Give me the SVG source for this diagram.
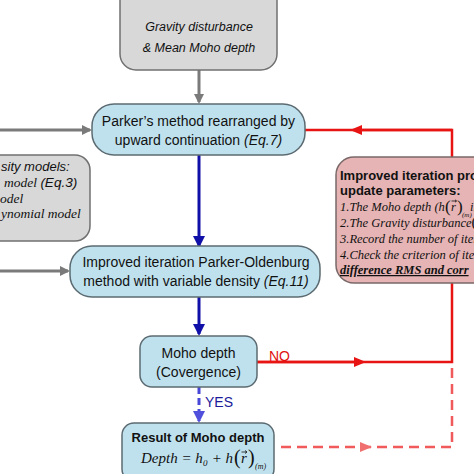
<svg xmlns="http://www.w3.org/2000/svg" width="474" height="474" viewBox="0 0 474 474">
<defs>
<style>
.gray{fill:#d8d8d8;stroke:#707070;stroke-width:1.5}
.blue{fill:#bfe1ee;stroke:#5c6b72;stroke-width:1.5}
.pink{fill:#e6b4b4;stroke:#7a6868;stroke-width:1.5}
.sans{font-family:"Liberation Sans",Arial,sans-serif;fill:#111}
.serif{font-family:"Liberation Serif","Times New Roman",serif;fill:#111;font-style:italic}
.it{font-style:italic}
.b{font-weight:bold}
.up{font-style:normal}
.vec{stroke:#111;stroke-width:0.8;fill:none}
.garr{stroke:#7a7a7a;stroke-width:3;fill:none}
.barr{stroke:#1010a8;stroke-width:3;fill:none}
.rarr{stroke:#e81414;stroke-width:2.5;fill:none}
.rdash{stroke:#f05a5a;stroke-width:2.5;fill:none;stroke-dasharray:10,6}
.ydash{stroke:#4848d8;stroke-width:3;fill:none;stroke-dasharray:7,4}
</style>
<marker id="mg" markerWidth="10" markerHeight="10" refX="8" refY="5" orient="auto" markerUnits="userSpaceOnUse"><path d="M0,0 L10,5 L0,10 z" fill="#7a7a7a"/></marker>
<marker id="mb" markerWidth="12" markerHeight="12" refX="10" refY="6" orient="auto" markerUnits="userSpaceOnUse"><path d="M0,0 L12,6 L0,12 z" fill="#1010a8"/></marker>
<marker id="my" markerWidth="12" markerHeight="12" refX="10" refY="6" orient="auto" markerUnits="userSpaceOnUse"><path d="M0,0 L12,6 L0,12 z" fill="#5050dd"/></marker>
<marker id="mr" markerWidth="12" markerHeight="10" refX="6" refY="5" orient="auto" markerUnits="userSpaceOnUse"><path d="M0,0 L12,5 L0,10 z" fill="#e81414"/></marker>
<marker id="mrl" markerWidth="12" markerHeight="10" refX="6" refY="5" orient="auto" markerUnits="userSpaceOnUse"><path d="M0,0 L12,5 L0,10 z" fill="#f07070"/></marker>
</defs>
<rect width="474" height="474" fill="#ffffff"/>

<g id="connectors">
<line class="garr" x1="199" y1="70" x2="199" y2="102" marker-end="url(#mg)"/>
<line class="garr" x1="0" y1="130" x2="90" y2="130" marker-end="url(#mg)"/>
<line class="garr" x1="0" y1="271" x2="68" y2="271" marker-end="url(#mg)"/>
<line class="barr" x1="199" y1="155" x2="199" y2="246" marker-end="url(#mb)"/>
<line class="barr" x1="199" y1="297" x2="199" y2="334" marker-end="url(#mb)"/>
<line class="ydash" x1="199" y1="387" x2="199" y2="421" marker-end="url(#my)"/>
<path class="rarr" d="M452,158 L452,130 L305,130"/>
<path class="rarr" d="M452,130 L356,130" marker-end="url(#mr)"/>
<path class="rarr" d="M452,283 L452,362 L257,362"/>
<path class="rarr" d="M257,362 L360,362" marker-end="url(#mr)"/>
<path class="rdash" d="M452,368 L452,447 L275,447"/>
<path class="rarr" style="stroke:none" d="M275,447 L366,447" marker-end="url(#mrl)"/>
<text class="sans" x="269" y="361" font-size="14" style="fill:#e01010">NO</text>
<text class="sans" x="205" y="407" font-size="14" style="fill:#1a1a9a">YES</text>
</g>

<g id="input">
<rect class="gray" x="120" y="-15" width="157" height="85" rx="16"/>
<text class="sans it" x="199" y="31" font-size="12.5" text-anchor="middle">Gravity disturbance</text>
<text class="sans it" x="199" y="52" font-size="12.5" text-anchor="middle">&amp; Mean Moho depth</text>
</g>

<g id="parker">
<rect class="blue" x="92" y="104" width="213" height="51" rx="22"/>
<text class="sans" x="198.5" y="126" font-size="14" text-anchor="middle">Parker’s method rearranged by</text>
<text class="sans" x="198.5" y="145" font-size="14" text-anchor="middle">upward continuation <tspan class="it">(Eq.7)</tspan></text>
</g>

<g id="density">
<rect class="gray" x="-20" y="155" width="110" height="86" rx="15"/>
<text class="sans it" x="1" y="171" font-size="13">sity models:</text>
<text class="serif" x="4" y="187" font-size="13.5">model <tspan class="sans it">(Eq.3)</tspan></text>
<text class="serif" x="0" y="203" font-size="13.5">odel</text>
<text class="serif" x="1" y="218" font-size="13.5">ynomial model</text>
</g>

<g id="oldenburg">
<rect class="blue" x="70" y="246" width="250" height="51" rx="22"/>
<text class="sans" x="196" y="267" font-size="14" text-anchor="middle">Improved iteration Parker-Oldenburg</text>
<text class="sans" x="196" y="286" font-size="14" text-anchor="middle">method with variable density <tspan class="it">(Eq.11)</tspan></text>
</g>

<g id="moho">
<rect class="blue" x="140" y="336" width="117" height="51" rx="12"/>
<text class="sans" x="198.5" y="358" font-size="14" text-anchor="middle">Moho depth</text>
<text class="sans" x="198.5" y="377" font-size="14" text-anchor="middle">(Covergence)</text>
</g>

<g id="result">
<rect class="blue" x="122" y="423" width="152" height="58" rx="12"/>
<text class="sans b" x="198" y="442" font-size="13" text-anchor="middle">Result of Moho depth</text>
<text class="serif" x="141" y="463" font-size="15">Depth = h<tspan x="203" font-size="9" dy="3">0</tspan><tspan x="208" dy="-3"> + h</tspan><tspan class="up" x="234" font-size="20" dy="1">(</tspan><tspan x="241" dy="-1">r</tspan><tspan class="up" x="248" font-size="20" dy="1">)</tspan><tspan x="255" font-size="8" dy="5">(m)</tspan></text>
<path class="vec" d="M241.5,452 L247,452 M245,450.5 L247,452 L245,453.5"/>
</g>

<g id="update">
<rect class="pink" x="336" y="157" width="160" height="126" rx="18"/>
<text class="sans b" x="340" y="180" font-size="13">Improved iteration proc</text>
<text class="sans b" x="340" y="195" font-size="13">update parameters:</text>
<text class="serif" x="340" y="211" font-size="12.5">1.The Moho depth (h<tspan class="up" x="445" font-size="17" dy="1">(</tspan><tspan x="451" dy="-1">r</tspan><tspan class="up" x="457" font-size="17" dy="1">)</tspan><tspan x="462" font-size="7" dy="5">(m)</tspan><tspan x="470" dy="-6">in</tspan></text>
<path class="vec" d="M451.5,201 L456.5,201 M455,199.8 L456.5,201 L455,202.2"/>
<text class="serif" x="340" y="227" font-size="12.5">2.The Gravity disturbance<tspan class="up" font-size="15">(</tspan></text>
<text class="serif" x="340" y="243" font-size="12.5">3.Record the number of iter</text>
<text class="serif" x="340" y="259" font-size="12.5">4.Check the criterion of iter</text>
<text class="serif b" x="340" y="274" font-size="12.5" font-style="normal" text-decoration="underline">difference RMS and  corr</text>
</g>
</svg>
